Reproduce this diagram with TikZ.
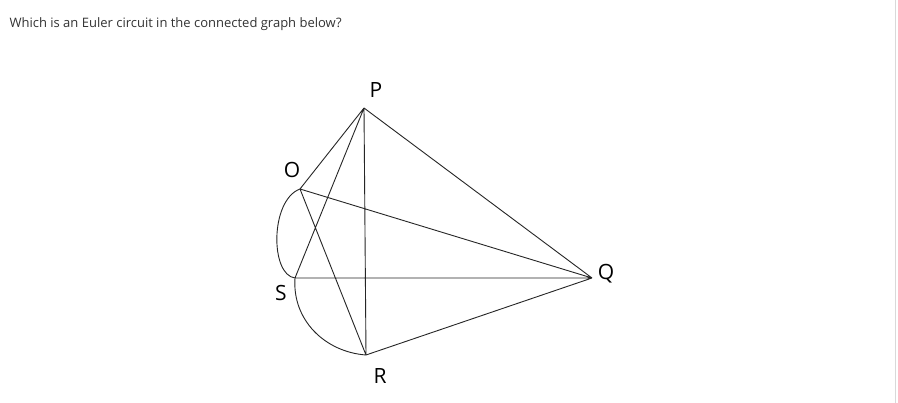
\documentclass[tikz,border=0pt]{standalone}
\usepackage{fontspec}
\setmainfont{Open Sans}
\begin{document}
\begin{tikzpicture}[x=1pt,y=-1pt,edge/.style={line width=0.9pt,black!85},
 lbl/.style={font=\fontsize{21}{24}\selectfont}]
\useasboundingbox[fill=white] (0,0) rectangle (898,403);
\draw[black!15] (895,0) -- (895,403);
\node[anchor=west,font=\fontsize{13}{15}\selectfont,text=black!80] (t) at (6,24) {Which is an Euler circuit in the connected graph below?};
\coordinate (P) at (364,108);
\coordinate (O) at (300,189);
\coordinate (S) at (295,278);
\coordinate (R) at (366,355);
\coordinate (Q) at (592,278);
\node[lbl] (lp) at (376,90) {P};
\node[lbl] (lo) at (292,170) {O};
\node[lbl] (ls) at (281,293) {S};
\node[lbl] (lr) at (380,376) {R};
\node[lbl] (lq) at (606,274) {Q};
\draw[edge] (P)--(O) (P)--(S) (P)--(R) (P)--(Q) (O)--(Q) (O)--(R) (S)--(Q) (R)--(Q);
\draw[edge] (O) .. controls (270,200) and (270,275) .. (S);
\draw[edge] (S) .. controls (292,320) and (325,352) .. (R);
\end{tikzpicture}
\end{document}
